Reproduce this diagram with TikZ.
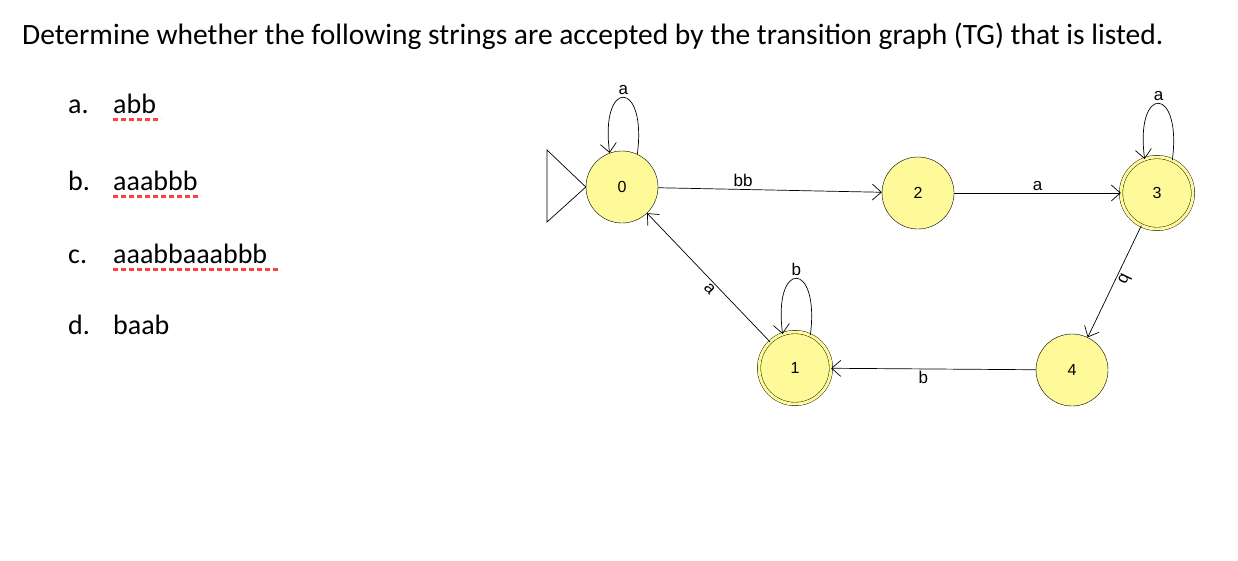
\documentclass[tikz,border=0pt]{standalone}
\usepackage{fontspec}
\setmainfont{Carlito}
\newfontfamily\lbl{Liberation Sans}
\usetikzlibrary{arrows.meta}
\begin{document}
\begin{tikzpicture}[x=1pt,y=-1pt,
  st/.style={circle,draw=black,fill=yellow!40!white,minimum size=72pt,inner sep=0pt,font=\lbl\fontsize{16}{16}\selectfont},
  acc/.style={st,double=yellow!40!white,double distance=3pt},
  tr/.style={draw,-{Straight Barb[length=9pt,width=16pt]},line width=0.7pt},
  lb/.style={font=\lbl\fontsize{17}{17}\selectfont,inner sep=2pt},
  txt/.style={font=\fontsize{29.5}{30}\selectfont,anchor=base west,inner sep=0pt},
  itm/.style={font=\fontsize{28}{28}\selectfont,anchor=base west,inner sep=0pt},
  sq/.style={draw=red!75!white,dash pattern=on 5pt off 3pt,line width=2.5pt}]
\useasboundingbox (0,0) rectangle (1238,560);
\node[txt] (title) at (22,44) {Determine whether the following strings are accepted by the transition graph (TG) that is listed.};
\node[itm] (la) at (68,113) {a.}; \node[itm] (wa) at (113,113) {abb};
\node[itm] (lbb) at (68,190) {b.}; \node[itm] (wb) at (113,190) {aaabbb};
\node[itm] (lc) at (68,263) {c.}; \node[itm] (wc) at (113,263) {aaabbaaabbb};
\node[itm] (ld) at (68,334) {d.}; \node[itm] (wd) at (113,334) {baab};
\draw[sq] (wa.south west)++(0,6) coordinate (ua) -- ++(48,0);
\draw[sq] (wb.south west)++(0,6) coordinate (ub) -- ++(88,0);
\draw[sq] (wc.south west)++(0,6) coordinate (uc) -- ++(168,0);

\node[st] (s0) at (622,187) {0};
\node[st] (s2) at (918,193) {2};
\node[acc] (s3) at (1157,193) {3};
\node[acc] (s1) at (795,368) {1};
\node[st] (s4) at (1072,370) {4};
\coordinate (i1) at (547,150); \coordinate (i2) at (547,222);
\draw[line width=0.7pt] (i1) -- (s0.west) -- (i2) -- cycle;

\draw[tr] (s0) -- node[lb,above,pos=0.38] {bb} (s2);
\draw[tr] (s2) -- node[lb,above] {a} (s3);
\draw[tr] (s3) -- node[lb,sloped,above,rotate=180,pos=0.45] {b} (s4);
\draw[tr] (s4) -- node[lb,below,pos=0.55] {b} (s1);
\draw[tr] (s1) -- node[lb,sloped,below,pos=0.45] {a} (s0);
\draw[tr] (s0.65) .. controls +(10,-75) and +(-10,-75) .. node[lb,above] {a} (s0.110);
\draw[tr] (s3.65) .. controls +(10,-75) and +(-10,-75) .. node[lb,above] {a} (s3.110);
\draw[tr] (s1.65) .. controls +(10,-75) and +(-10,-75) .. node[lb,above] {b} (s1.110);
\end{tikzpicture}
\end{document}
